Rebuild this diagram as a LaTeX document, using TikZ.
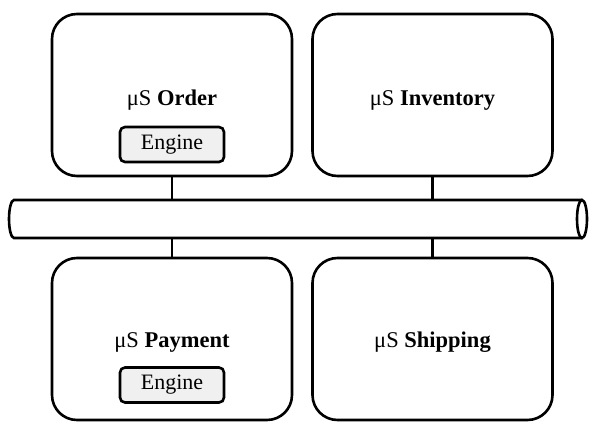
\documentclass[tikz,border=0pt]{standalone}
\usepackage{fontspec}
\setmainfont{Liberation Serif}
\tikzstyle{service} = [draw=black, line width=2.6pt, rounded corners=25pt, minimum width=240pt, minimum height=162pt]
\tikzstyle{label} = [font={\fontsize{22.5}{26}\selectfont}]
\tikzstyle{engine} = [draw=black, line width=2.6pt, rounded corners=5pt, fill=black!6, minimum width=104pt, minimum height=35pt, font={\fontsize{22}{26}\selectfont}]
\tikzstyle{link} = [draw=black, line width=2.6pt]

\begin{document}
\begin{tikzpicture}[x=1pt,y=-1pt]
    \useasboundingbox (0,0) rectangle (599,436);
    \node[service](order) at (172,95){};
    \node[service](inventory) at (432.5,95){};
    \node[service](payment) at (172,339){};
    \node[service](shipping) at (432.5,339){};
    \node[label](ordertxt) at (172,100){μS \textbf{Order}};
    \node[label](inventorytxt) at (432.5,100){μS \textbf{Inventory}};
    \node[label](paymenttxt) at (172,342){μS \textbf{Payment}};
    \node[label](shippingtxt) at (432.5,342){μS \textbf{Shipping}};
    \node[engine](orderengine) at (172,144.5){Engine};
    \node[engine](paymentengine) at (172,385){Engine};
    % message bus
    \coordinate(busn) at (300,200);
    \coordinate(buss) at (300,238);
    \draw[link] (582,200) -- (14,200) arc[start angle=90, end angle=270, x radius=5, y radius=-19] -- (582,238);
    \draw[link] (582,219) ellipse[x radius=5, y radius=19];
    \draw[link](order.south)--(order.south |- busn);
    \draw[link](inventory.south)--(inventory.south |- busn);
    \draw[link](payment.north)--(payment.north |- buss);
    \draw[link](shipping.north)--(shipping.north |- buss);
  \end{tikzpicture}
\end{document}
